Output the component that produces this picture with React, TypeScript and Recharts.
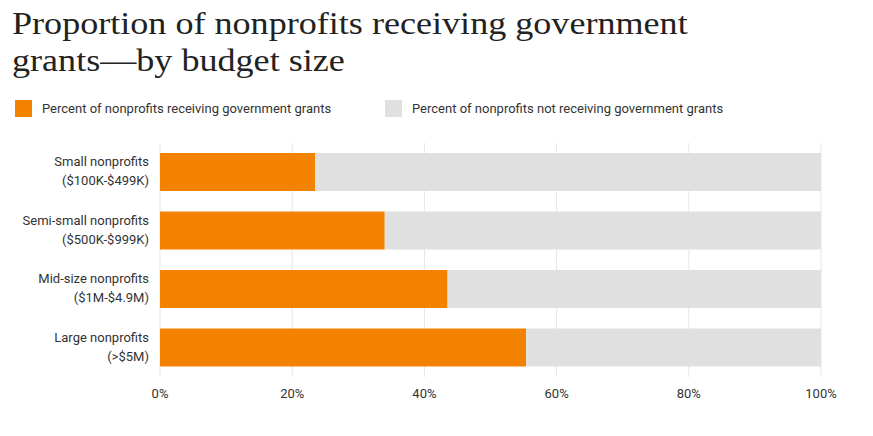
import { BarChart, Bar, XAxis, YAxis, CartesianGrid } from 'recharts';

const titleLines = ['Proportion of nonprofits receiving government', 'grants—by budget size'];
const categoryNames = ['Small nonprofits', 'Semi-small nonprofits', 'Mid-size nonprofits', 'Large nonprofits'];
const budgetRanges = ['($100K-$499K)', '($500K-$999K)', '($1M-$4.9M)', '(>$5M)'];
const receiving = [23.5, 34.0, 43.5, 55.4];
const notReceiving = [76.5, 66.0, 56.5, 44.6];
const xTicks = [0, 20, 40, 60, 80, 100];

const ORANGE = '#F38200';
const GRAY = '#E0E0E0';
const FONT = 'Roboto, "Liberation Sans", sans-serif';

const chartData = categoryNames.map((name, i) => ({
  name,
  range: budgetRanges[i],
  receiving: receiving[i],
  notReceiving: notReceiving[i],
}));

function CategoryTick({ x, y, index }: any) {
  return (
    <text x={x - 3} y={y} textAnchor="end" fill="#333" fontSize={13} fontFamily={FONT}>
      <tspan x={x - 3} dy={-6}>{categoryNames[index]}</tspan>
      <tspan x={x - 3} dy={19}>{budgetRanges[index]}</tspan>
    </text>
  );
}

function LegendItem({ color, label, left }: { color: string; label: string; left: number }) {
  return (
    <div style={{ position: 'absolute', left, top: 100, display: 'flex', alignItems: 'center' }}>
      <div style={{ width: 17, height: 17, background: color }} />
      <span style={{ marginLeft: 10, fontSize: 13, color: '#333', fontFamily: FONT }}>{label}</span>
    </div>
  );
}

export default function App() {
  return (
    <div style={{ position: 'absolute', left: 0, top: 0, width: 873, height: 436, background: '#fff' }}>
      <div
        style={{
          position: 'absolute',
          left: 12,
          top: 5,
          fontFamily: '"Liberation Serif", serif',
          fontSize: 32,
          lineHeight: '37px',
          color: '#222',
          whiteSpace: 'nowrap',
          transform: 'scaleX(1.128)',
          transformOrigin: 'left top',
        }}
      >
        {titleLines[0]}
        <br />
        {titleLines[1]}
      </div>
      <LegendItem color={ORANGE} label="Percent of nonprofits receiving government grants" left={15} />
      <LegendItem color={GRAY} label="Percent of nonprofits not receiving government grants" left={385} />
      <div style={{ position: 'absolute', left: 0, top: 0 }}>
        <BarChart
          width={873}
          height={436}
          data={chartData}
          layout="vertical"
          margin={{ top: 143, right: 52, bottom: 29, left: 10 }}
          barSize={38}
        >
          <CartesianGrid horizontal={false} stroke="#E6E6E6" />
          <XAxis
            type="number"
            domain={[0, 100]}
            ticks={xTicks}
            tickFormatter={(v) => `${v}%`}
            axisLine={false}
            tickLine={false}
            tickMargin={6}
            height={30}
            tick={{ fontSize: 13, fill: '#333', fontFamily: FONT }}
          />
          <YAxis
            type="category"
            dataKey="name"
            width={150}
            axisLine={false}
            tickLine={false}
            tick={<CategoryTick />}
          />
          <Bar dataKey="receiving" stackId="a" fill={ORANGE} isAnimationActive={false} />
          <Bar dataKey="notReceiving" stackId="a" fill={GRAY} isAnimationActive={false} />
        </BarChart>
      </div>
    </div>
  );
}
